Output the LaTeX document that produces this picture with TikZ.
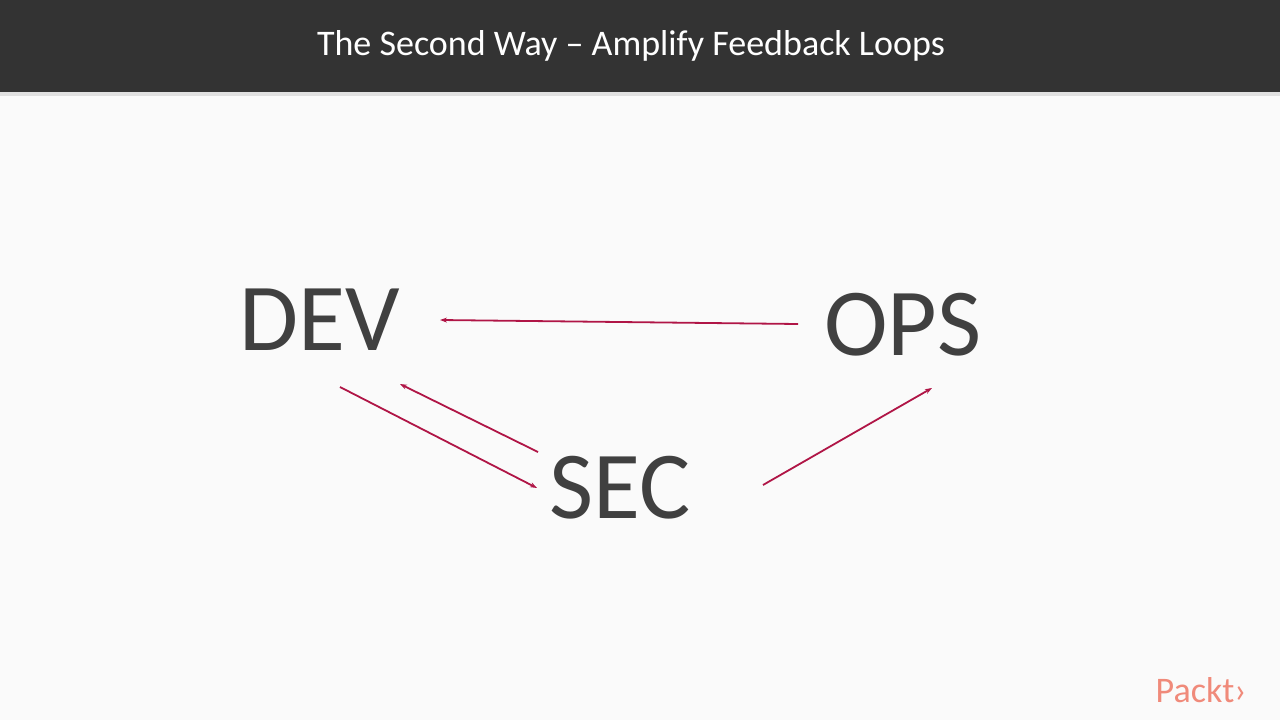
\documentclass[tikz,border=0pt]{standalone}
\usepackage{fontspec}
\setmainfont{Carlito}
\usetikzlibrary{arrows.meta}
\definecolor{bar}{HTML}{333333}
\definecolor{bg}{HTML}{FAFAFA}
\definecolor{txt}{HTML}{404040}
\definecolor{arr}{HTML}{B01546}
\definecolor{packt}{HTML}{F08A7A}
\tikzset{
  lbl/.style={text=txt, font=\fontsize{96}{96}\selectfont, inner sep=0pt},
  link/.style={draw=arr, line width=1.8pt, -{Stealth[length=7pt,width=5pt]}}
}
\begin{document}
\begin{tikzpicture}[x=1pt,y=-1pt]
\useasboundingbox (0,0) rectangle (1280,720);
\fill[bg] (0,0) rectangle (1280,720);
\fill[black!12] (0,92) rectangle (1280,96);
\fill[bar] (0,0) rectangle (1280,92);
\node[text=white, font=\fontsize{36}{36}\selectfont] (title) at (631,46) {The Second Way – Amplify Feedback Loops};
\node[lbl] (dev) at (320,320) {DEV};
\node[lbl] (ops) at (903,325) {OPS};
\node[lbl] (sec) at (620,488) {SEC};
\coordinate (o1) at (798,324); \coordinate (d1) at (440,320);
\coordinate (d2) at (340,387); \coordinate (s2) at (537,488);
\coordinate (s3) at (538,452); \coordinate (d3) at (400,384);
\coordinate (s4) at (763,485); \coordinate (o4) at (932,388);
\draw[link] (o1) -- (d1);
\draw[link] (d2) -- (s2);
\draw[link] (s3) -- (d3);
\draw[link] (s4) -- (o4);
\node[text=packt, font=\fontsize{36}{36}\selectfont, anchor=east] (logo) at (1250,690) {Packt›};
\end{tikzpicture}
\end{document}
